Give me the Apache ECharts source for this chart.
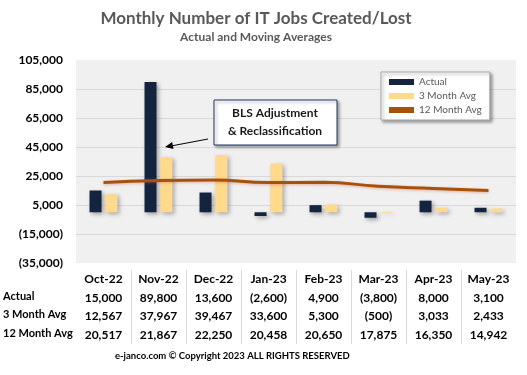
<!DOCTYPE html>
<html>
<head>
<meta charset="utf-8">
<script src="https://cdn.jsdelivr.net/npm/echarts@6/dist/echarts.min.js"></script>
<style>
  html, body { margin: 0; padding: 0; background: #fff; }
  #chart { width: 527px; height: 375px; }
</style>
</head>
<body>
<div id="chart"></div>
<script>
const months = ['Oct-22', 'Nov-22', 'Dec-22', 'Jan-23', 'Feb-23', 'Mar-23', 'Apr-23', 'May-23'];
const actual = [15000, 89800, 13600, -2600, 4900, -3800, 8000, 3100];
const avg3 = [12567, 37967, 39467, 33600, 5300, -500, 3033, 2433];
const avg12 = [20517, 21867, 22250, 20458, 20650, 17875, 16350, 14942];
const rowNames = ['Actual', '3 Month Avg', '12 Month Avg'];

const font = 'Lato, "Open Sans", sans-serif';
const rowH = 18.5;
const tableTop = 279;

function fmt(v) {
    let s = Math.abs(v).toLocaleString('en-US');
    return v < 0 ? '(' + s + ')' : s;
}

const chart = echarts.init(document.getElementById('chart'));

let rowLabels = rowNames.map((name, i) => ({
    type: 'text',
    left: 3,
    top: tableTop + (i + 1) * rowH - 7,
    style: { text: name, font: 'bold 11px ' + font, fill: '#000' }
}));

chart.setOption({
    animation: false,
    textStyle: { fontFamily: font },
    title: {
        text: 'Monthly Number of IT Jobs Created/Lost',
        subtext: 'Actual and Moving Averages',
        left: 251,
        top: 5,
        textAlign: 'center',
        itemGap: 4,
        textStyle: { fontSize: 17, fontWeight: 'bold', color: '#595959' },
        subtextStyle: { fontSize: 12, fontWeight: 'bold', color: '#595959' }
    },
    legend: {
        orient: 'vertical',
        left: 381,
        top: 72,
        itemWidth: 25,
        itemHeight: 6,
        itemGap: 4,
        padding: [5, 8, 5, 8],
        backgroundColor: '#fff',
        borderColor: '#a6a6a6',
        borderWidth: 1,
        shadowBlur: 3,
        shadowColor: 'rgba(0,0,0,0.35)',
        shadowOffsetX: 2,
        shadowOffsetY: 2,
        textStyle: { fontSize: 10, color: '#595959' },
        data: [
            { name: 'Actual', icon: 'rect' },
            { name: '3 Month Avg', icon: 'rect' },
            { name: '12 Month Avg', icon: 'rect' }
        ]
    },
    grid: [
        { left: 76, right: 11, top: 60, bottom: 112, show: true, backgroundColor: '#f0f0f0', borderWidth: 0 },
        { left: 76, right: 11, top: 270, height: 74 }
    ],
    xAxis: [{
        type: 'category',
        gridIndex: 0,
        data: months,
        axisLine: { show: false, onZero: false },
        axisTick: { show: false },
        axisLabel: {
            interval: 0,
            margin: 7,
            lineHeight: rowH,
            formatter: (v, i) => '{m|' + v + '}\n{v|' + fmt(actual[i]) + '}\n{v|' + fmt(avg3[i]) + '}\n{v|' + fmt(avg12[i]) + '}',
            rich: {
                m: { fontSize: 12, fontWeight: 'bold', color: '#000', lineHeight: rowH },
                v: { fontSize: 12, fontWeight: 'bold', color: '#000', lineHeight: rowH }
            }
        }
    }, {
        type: 'category',
        gridIndex: 1,
        data: months,
        axisLine: { show: false },
        axisTick: { show: false },
        axisLabel: { show: false },
        splitLine: { show: true, interval: 0, showMinLine: false, showMaxLine: false, lineStyle: { color: '#d9d9d9' } }
    }],
    yAxis: [{
        type: 'value',
        gridIndex: 0,
        min: -35000,
        max: 105000,
        interval: 20000,
        axisLabel: {
            margin: 13,
            fontSize: 12,
            fontWeight: 'bold',
            color: '#000',
            formatter: fmt
        },
        splitLine: { showMinLine: false, showMaxLine: false, lineStyle: { color: '#d9d9d9' } }
    }, {
        type: 'value',
        gridIndex: 1,
        min: 0,
        max: 1,
        show: false
    }],
    series: [{
        name: 'Actual',
        type: 'bar',
        data: actual,
        barWidth: 12,
        barGap: '33%',
        itemStyle: {
            color: '#14243f',
            shadowBlur: 4,
            shadowColor: 'rgba(0,0,0,0.35)',
            shadowOffsetX: 2,
            shadowOffsetY: 2
        }
    }, {
        name: '3 Month Avg',
        type: 'bar',
        data: avg3,
        barWidth: 12,
        itemStyle: {
            color: '#ffd98c',
            shadowBlur: 4,
            shadowColor: 'rgba(0,0,0,0.3)',
            shadowOffsetX: 2,
            shadowOffsetY: 2
        }
    }, {
        name: '12 Month Avg',
        type: 'line',
        data: avg12,
        smooth: true,
        showSymbol: false,
        z: 5,
        itemStyle: { color: '#a5520c' },
        lineStyle: {
            color: '#a5520c',
            width: 3,
            shadowBlur: 3,
            shadowColor: 'rgba(200,80,60,0.4)',
            shadowOffsetY: 1
        }
    }],
    graphic: rowLabels.concat([{
        type: 'rect',
        shape: { x: 214, y: 100, width: 123, height: 45 },
        style: {
            fill: '#fff',
            stroke: '#1f3864',
            lineWidth: 1,
            shadowBlur: 3,
            shadowColor: 'rgba(0,0,0,0.35)',
            shadowOffsetX: 2,
            shadowOffsetY: 2
        },
        z: 10
    }, {
        type: 'text',
        x: 275,
        y: 122,
        style: {
            text: 'BLS Adjustment\n& Reclassification',
            font: 'bold 12px ' + font,
            fill: '#1a1a1a',
            align: 'center',
            verticalAlign: 'middle',
            lineHeight: 18
        },
        z: 11
    }, {
        type: 'line',
        shape: { x1: 208, y1: 139, x2: 171, y2: 146 },
        style: { stroke: '#000', lineWidth: 1 },
        z: 10
    }, {
        type: 'polygon',
        shape: { points: [[165, 147], [173.5, 149], [172.2, 142]] },
        style: { fill: '#000' },
        z: 10
    }, {
        type: 'text',
        left: 115,
        top: 351,
        style: {
            text: 'e-janco.com \u00a9 Copyright 2023 ALL RIGHTS RESERVED',
            font: 'bold 9.5px ' + font,
            fill: '#000'
        }
    }])
});
</script>
</body>
</html>
